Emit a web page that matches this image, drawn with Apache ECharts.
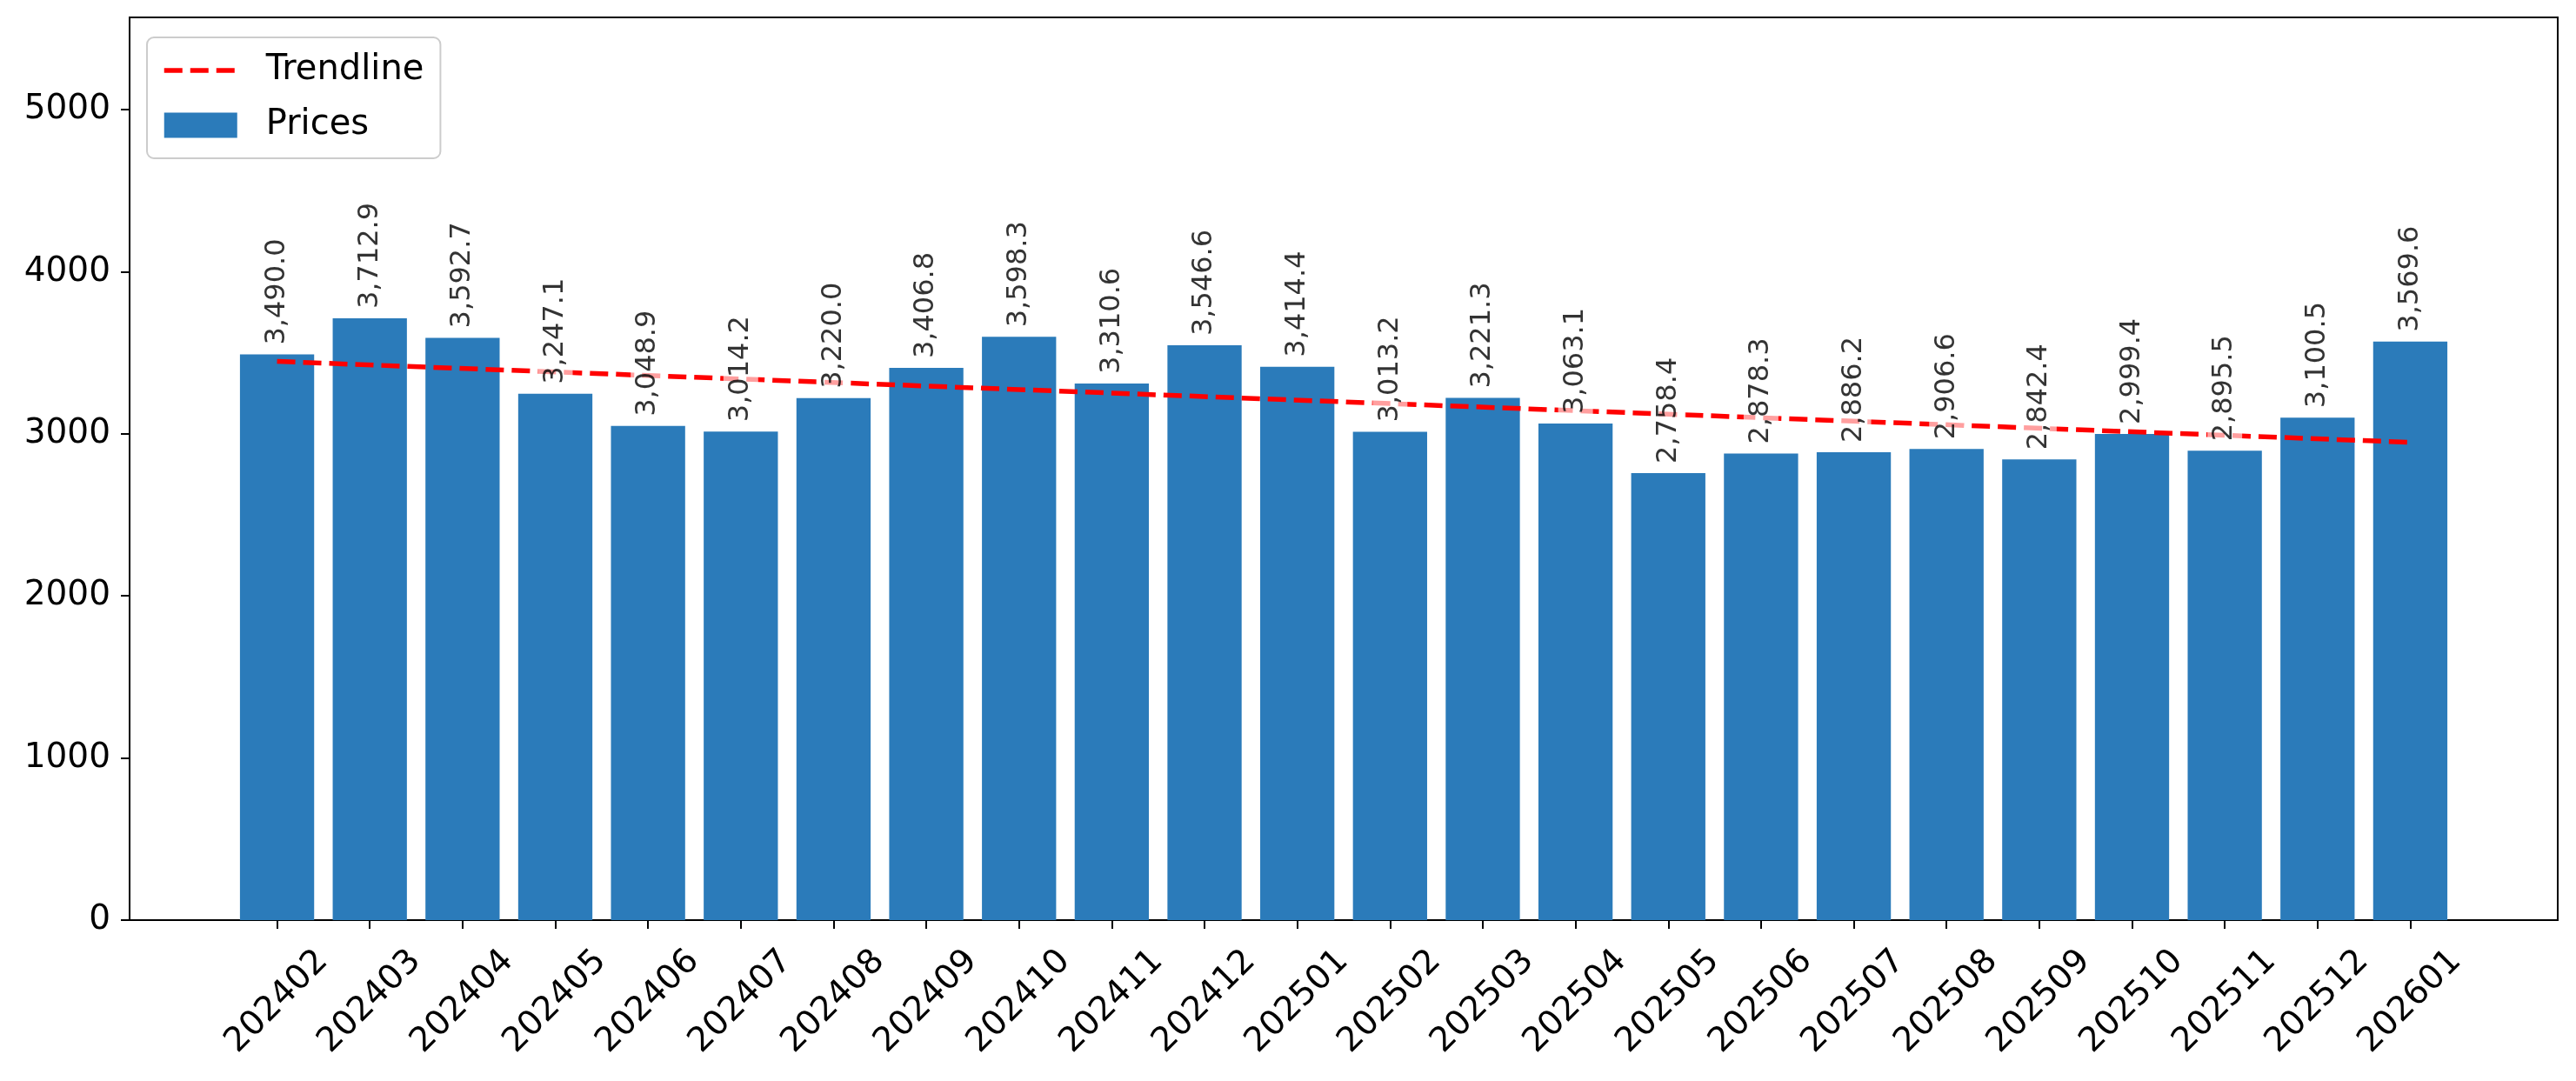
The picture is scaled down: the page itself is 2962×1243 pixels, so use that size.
<!DOCTYPE html>
<html>
<head>
<meta charset="utf-8">
<script src="https://cdn.jsdelivr.net/npm/echarts@6/dist/echarts.min.js"></script>
<style>
  html, body { margin: 0; padding: 0; background: #fff; }
  #chart { width: 2962px; height: 1243px; }
</style>
</head>
<body>
<div id="chart"></div>
<script>
// months on the x axis
const months = ['202402', '202403', '202404', '202405', '202406', '202407', '202408', '202409',
  '202410', '202411', '202412', '202501', '202502', '202503', '202504', '202505',
  '202506', '202507', '202508', '202509', '202510', '202511', '202512', '202601'];
// monthly prices (bar heights)
const prices = [3490.0, 3712.9, 3592.7, 3247.1, 3048.9, 3014.2, 3220.0, 3406.8,
  3598.3, 3310.6, 3546.6, 3414.4, 3013.2, 3221.3, 3063.1, 2758.4,
  2878.3, 2886.2, 2906.6, 2842.4, 2999.4, 2895.5, 3100.5, 3569.6];
// trendline end points (index on x, value on y)
const trendX = [0, 23];
const trendY = [3446.9, 2947.8];

const FONT = 'DejaVu Sans';
const chart = echarts.init(document.getElementById('chart'));

const idx = months.map((m, i) => i);
const barData = prices.map((v, i) => [i, v]);
const trendData = trendX.map((x, k) => [x, trendY[k]]);
const fmt = v => v.toLocaleString('en-US', { minimumFractionDigits: 1, maximumFractionDigits: 1 });

const trendStyle = { color: '#ff0000', width: 5.5, type: [21, 9] };

const option = {
  animation: false,
  backgroundColor: '#fff',
  grid: {
    left: 149, right: 21, top: 20, bottom: 185,
    show: true, borderColor: '#000', borderWidth: 2
  },
  legend: {
    data: [
      { name: 'Trendline', itemStyle: { opacity: 0 }, lineStyle: trendStyle },
      { name: 'Prices', icon: 'rect' }
    ],
    orient: 'vertical',
    left: 169, top: 43,
    padding: [15, 19, 15, 17],
    itemGap: 17,
    itemWidth: 84,
    itemHeight: 29,
    borderColor: '#cccccc',
    borderWidth: 2,
    borderRadius: 8,
    backgroundColor: 'rgba(255,255,255,0.8)',
    textStyle: { fontFamily: FONT, fontSize: 40, color: '#000', lineHeight: 46, padding: [0, 0, 0, 28] }
  },
  xAxis: {
    type: 'value',
    min: -1.59,
    max: 24.59,
    splitLine: { show: false },
    axisLine: { show: true, onZero: false, lineStyle: { color: '#000', width: 2 } },
    axisTick: { show: true, customValues: idx, length: 10, lineStyle: { color: '#000', width: 2 } },
    axisLabel: {
      customValues: idx,
      formatter: v => months[Math.round(v)] || '',
      rotate: 45,
      align: 'center',
      verticalAlign: 'middle',
      margin: 94,
      fontFamily: FONT,
      fontSize: 39,
      color: '#000'
    }
  },
  yAxis: {
    type: 'value',
    min: 0,
    max: 5569.35,
    interval: 1000,
    splitLine: { show: false },
    axisLine: { show: true, onZero: false, lineStyle: { color: '#000', width: 2 } },
    axisTick: { show: true, length: 10, lineStyle: { color: '#000', width: 2 } },
    axisLabel: {
      margin: 22,
      fontFamily: FONT,
      fontSize: 39,
      color: '#000',
      showMaxLabel: false,
      formatter: v => (v % 1000 === 0 ? String(v) : '')
    }
  },
  series: [
    {
      name: 'Prices',
      type: 'bar',
      data: barData,
      barWidth: '80%',
      itemStyle: { color: '#2b7bba' },
      z: 2
    },
    {
      name: 'Trendline',
      type: 'line',
      data: trendData,
      symbol: 'none',
      itemStyle: { color: '#ff0000' },
      lineStyle: trendStyle,
      z: 3
    },
    {
      // value labels above bars, drawn over the trendline
      type: 'scatter',
      data: barData,
      symbolSize: 0,
      silent: true,
      z: 4,
      label: {
        show: true,
        position: 'top',
        distance: 7,
        rotate: 90,
        align: 'left',
        verticalAlign: 'middle',
        formatter: p => fmt(p.value[1]),
        fontFamily: FONT,
        fontSize: 32,
        color: '#000',
        backgroundColor: 'rgba(255,255,255,0.78)',
        padding: [4, 4]
      }
    }
  ]
};

chart.setOption(option);
</script>
</body>
</html>
